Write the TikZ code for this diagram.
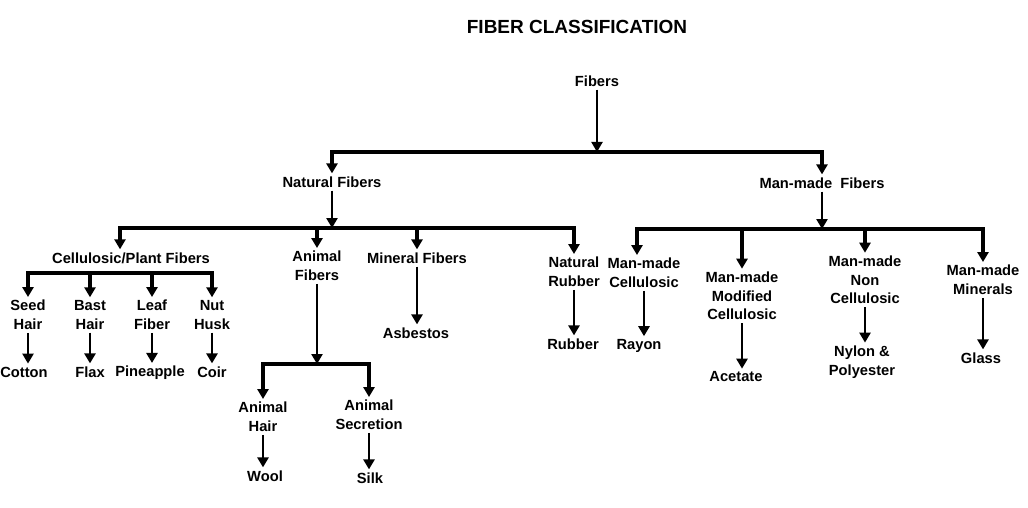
\documentclass[tikz,border=0pt]{standalone}
\usepackage{fontspec}
\setmainfont{Liberation Sans}
\usetikzlibrary{arrows.meta}
\usetikzlibrary{calc}

\begin{document}
\begin{tikzpicture}
        [
            x=1pt, y=-1pt,
            every node/.style={font=\bfseries\fontsize{14.7}{18.7}\selectfont, align=center, inner sep=3pt},
            arr/.style={line width=2.6pt, -{Triangle[length=10pt,width=11pt]}},
            drop/.style={arr, line width=3.2pt},
            bar/.style={line width=3.6pt, line cap=rect},
        ]
        \useasboundingbox (0,0) rectangle (1028,508);
        \node (title) at (577,27) {\fontsize{19}{23}\selectfont FIBER CLASSIFICATION};
        \node (fib) at (597,81) {Fibers};
        \node (nat) at (332,182) {Natural Fibers};
        \node (man) at (822,183) {Man-made\ \ Fibers};
        % natural side
        \node (cel) at (131,258) {Cellulosic/Plant Fibers};
        \node (ani) at (317,266) {Animal\\Fibers};
        \node (min) at (417,258) {Mineral Fibers};
        \node (nru) at (574,272) {Natural\\Rubber};
        \node (seed) at (28,315) {Seed\\Hair};
        \node (bast) at (90,315) {Bast\\Hair};
        \node (leaf) at (152,315) {Leaf\\Fiber};
        \node (nut) at (212,315) {Nut\\Husk};
        \node (cot) at (24,372) {Cotton};
        \node (flax) at (90,372) {Flax};
        \node (pine) at (150,373) {Pineapple};
        \node (coir) at (212,372) {Coir};
        \node (ahair) at (263,417) {Animal\\Hair};
        \node (asec) at (369,415) {Animal\\Secretion};
        \node (wool) at (265,476) {Wool};
        \node (silk) at (370,478) {Silk};
        \node (asb) at (416,333) {Asbestos};
        \node (rub) at (573,344) {Rubber};
        % man-made side
        \node (mce) at (644,273) {Man-made\\Cellulosic};
        \node (mmo) at (742,296) {Man-made\\Modified\\Cellulosic};
        \node (mnc) at (865,280) {Man-made\\Non\\Cellulosic};
        \node (mmi) at (983,280) {Man-made\\Minerals};
        \node (ray) at (639,346) {Rayon};
        \node (ace) at (736,377) {Acetate};
        \node (nyl) at (862,362) {Nylon \&\\Polyester};
        \node (gla) at (981,358) {Glass};

        \coordinate (jA) at (0,152);
        \coordinate (jB) at (0,228);
        \coordinate (jC) at (0,229);
        \coordinate (jD) at (0,273);
        \coordinate (jE) at (0,364);

        \draw[arr, line width=2pt] (fib.south) -- (fib.south |- jA);
        \draw[bar] (nat.north |- jA) -- (man.north |- jA);
        \draw[drop] (nat.north |- jA) -- (nat.north);
        \draw[drop] (man.north |- jA) -- (man.north);

        \draw[arr] (nat.south) -- (nat.south |- jB);
        \draw[bar] ([xshift=-11pt]cel.north |- jB) -- (nru.north |- jB);
        \draw[drop] ([xshift=-11pt]cel.north |- jB) -- ([xshift=-11pt]cel.north);
        \foreach \n in {ani, min, nru}
            \draw[drop] (\n.north |- jB) -- (\n.north);

        \draw[arr] (man.south) -- (man.south |- jC);
        \draw[bar] ([xshift=-7pt]mce.north |- jC) -- (mmi.north |- jC);
        \draw[drop] ([xshift=-7pt]mce.north |- jC) -- ([xshift=-7pt]mce.north);
        \foreach \n in {mmo, mnc, mmi}
            \draw[drop] (\n.north |- jC) -- (\n.north);

        \draw[bar] (seed.north |- jD) -- (nut.north |- jD);
        \foreach \n in {seed, bast, leaf, nut}
            \draw[drop] (\n.north |- jD) -- (\n.north);

        \draw[arr] (ani.south) -- (ani.south |- jE);
        \draw[bar] (ahair.north |- jE) -- (asec.north |- jE);
        \foreach \n in {ahair, asec}
            \draw[drop] (\n.north |- jE) -- (\n.north);

        \foreach \a/\b in {seed/cot, bast/flax, leaf/pine, nut/coir, ahair/wool, asec/silk,
                min/asb, nru/rub, mce/ray, mmo/ace, mnc/nyl, mmi/gla}
            \draw[arr] (\a.south) -- (\a.south |- \b.north);
\end{tikzpicture}
\end{document}
